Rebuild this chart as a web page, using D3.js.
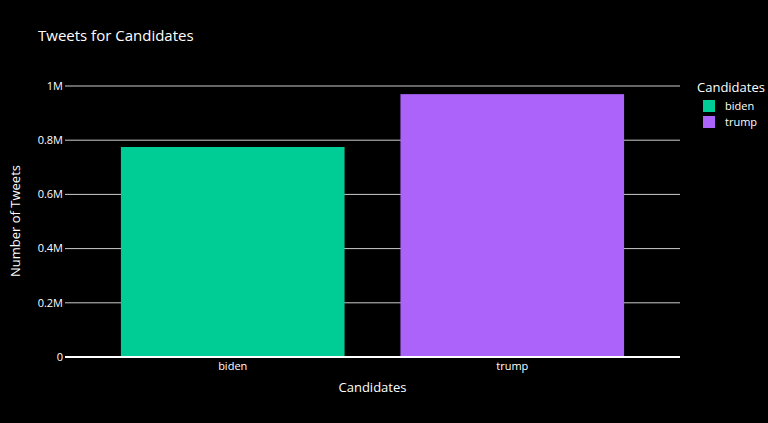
<!DOCTYPE html>
<html><head><meta charset="utf-8">
<script src="https://cdn.jsdelivr.net/npm/d3@7"></script>
<style>body{margin:0;background:#000}svg{font-family:"Open Sans",sans-serif}</style>
</head><body><svg id="c" width="768" height="423"></svg>
<script>
const categories = ["biden", "trump"];
const values = [775000, 970000];
const colors = ["#00cc96", "#ab63fa"];
const yTicks = [0, 200000, 400000, 600000, 800000, 1000000];
const yTickLabels = ["0", "0.2M", "0.4M", "0.6M", "0.8M", "1M"];

const svg = d3.select("#c");
svg.append("rect").attr("width",768).attr("height",423).attr("fill","#000");
const m = {l:65, r:680, t:86, b:357};
const x = d3.scaleBand().domain(categories).range([m.l, m.r]).padding(0.2);
const y = d3.scaleLinear().domain([0, 1000000]).range([m.b, m.t]);

svg.append("g").selectAll("line").data(yTicks.slice(1)).join("line")
  .attr("x1", m.l).attr("x2", m.r).attr("y1", d=>y(d)).attr("y2", d=>y(d))
  .attr("stroke", "#ccc").attr("stroke-width", 1);

svg.append("g").selectAll("rect").data(categories).join("rect")
  .attr("x", d=>x(d)).attr("width", x.bandwidth())
  .attr("y", (d,i)=>y(values[i])).attr("height", (d,i)=>m.b - y(values[i]))
  .attr("fill", (d,i)=>colors[i]);

svg.append("line").attr("x1", m.l).attr("x2", m.r).attr("y1", m.b).attr("y2", m.b)
  .attr("stroke", "#fff").attr("stroke-width", 2);

svg.append("g").selectAll("text").data(yTicks).join("text")
  .attr("x", m.l - 2).attr("y", d=>y(d)).attr("dy","0.35em").attr("text-anchor","end")
  .attr("fill","#fff").attr("font-size",11).text((d,i)=>yTickLabels[i]);

svg.append("g").selectAll("text").data(categories).join("text")
  .attr("x", d=>x(d)+x.bandwidth()/2).attr("y", 370).attr("text-anchor","middle")
  .attr("fill","#fff").attr("font-size",11).text(d=>d);

svg.append("text").attr("x", 38).attr("y", 41).attr("fill","#fff").attr("font-size",15).text("Tweets for Candidates");
svg.append("text").attr("x", (m.l+m.r)/2).attr("y", 392).attr("text-anchor","middle")
  .attr("fill","#fff").attr("font-size",13).text("Candidates");
svg.append("text").attr("transform", "translate(20,221) rotate(-90)").attr("text-anchor","middle")
  .attr("fill","#fff").attr("font-size",13).text("Number of Tweets");

svg.append("text").attr("x", 697).attr("y", 92).attr("fill","#fff").attr("font-size",13).text("Candidates");
const lg = svg.append("g").selectAll("g").data(categories).join("g")
  .attr("transform", (d,i)=>`translate(703,${106 + i*16})`);
lg.append("rect").attr("x",0).attr("y",-6).attr("width",12).attr("height",12).attr("fill",(d,i)=>colors[i]);
lg.append("text").attr("x",22).attr("dy","0.35em").attr("fill","#fff").attr("font-size",11).text(d=>d);
</script></body></html>
